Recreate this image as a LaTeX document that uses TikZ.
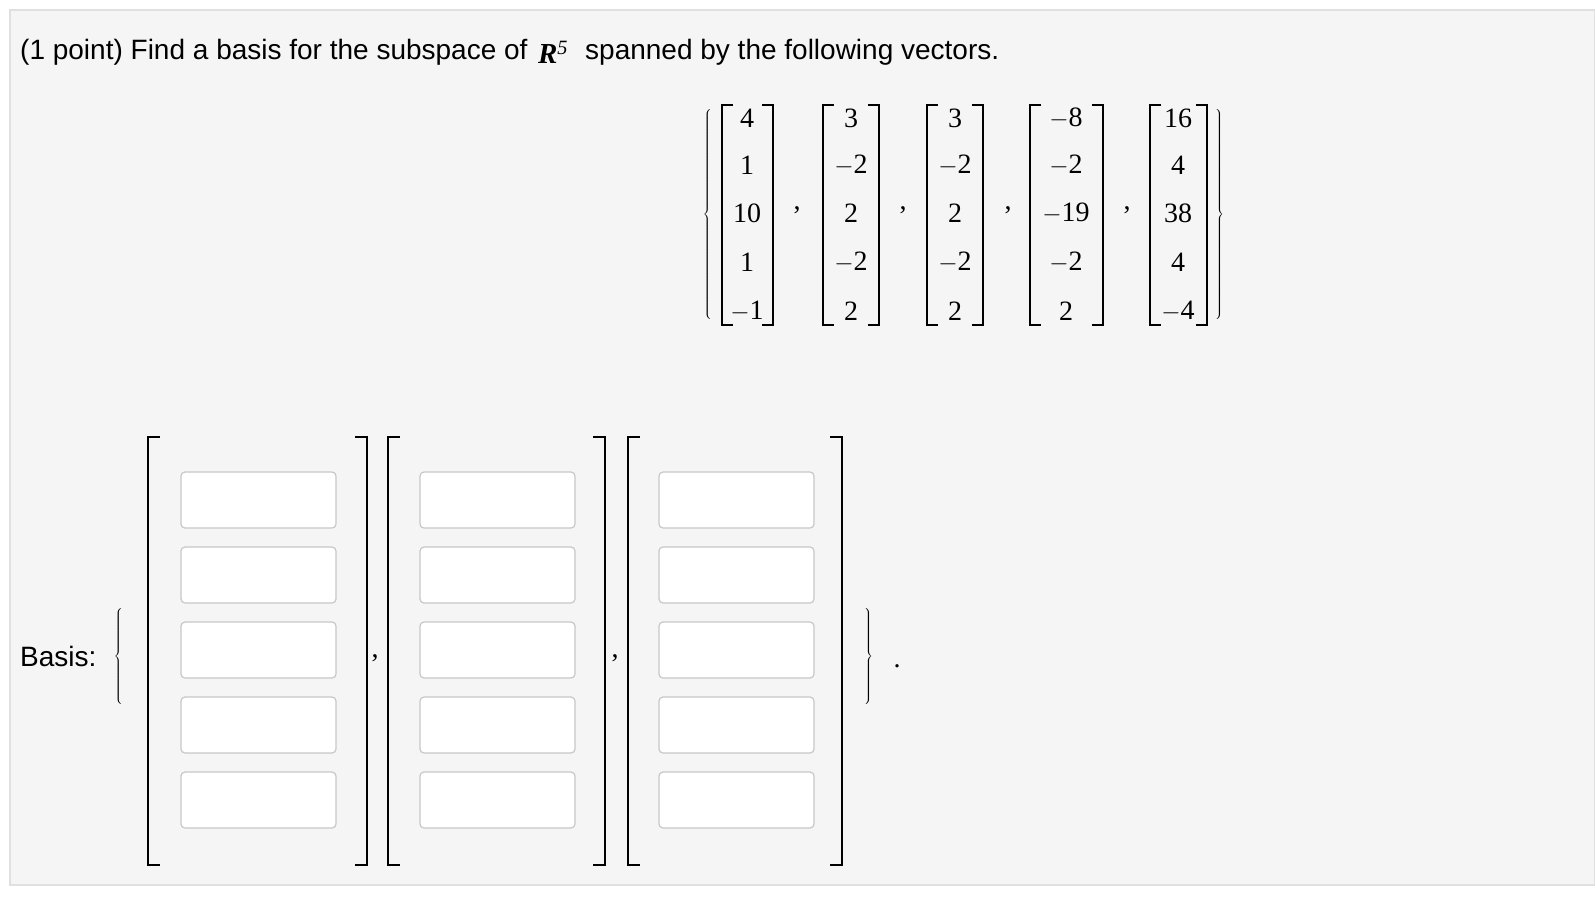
\documentclass[tikz,border=0pt]{standalone}
\usepackage{fontspec}
\setmainfont{Liberation Serif}
\newfontfamily\uifont{Liberation Sans}
\begin{document}
\begin{tikzpicture}[x=1pt,y=-1pt,
  num/.style={font=\fontsize{28}{30}\selectfont, anchor=center, inner sep=0pt},
  ui/.style={font=\uifont\fontsize{28}{30}\selectfont, inner sep=0pt},
  brk/.style={line width=1.6pt, black},
  inbox/.style={draw=black!22, fill=white, rounded corners=4pt, line width=1.2pt, minimum width=155pt, minimum height=56pt, inner sep=0pt}]
\useasboundingbox (0,0) rectangle (1595,906);
\fill[white] (0,0) rectangle (1595,906);
\draw[fill=black!4, draw=black!12, line width=1.5pt] (10,10) rectangle (1595,885);
\node[ui, anchor=west] (title) at (20,52) {(1 point) Find a basis for the subspace of};
\node[num, font=\fontsize{29}{30}\selectfont] (R) at (553,52) {\textbf{\textit{R}}\textsuperscript{\textit{5}}};
\node[ui, anchor=west] (title2) at (585,52) {spanned by the following vectors.};
% top vectors
\foreach \c/\l/\r [count=\k] in {747/722/773, 851/823/879, 955/927/983, 1066/1030/1103, 1178/1150/1207}{
  \draw[brk] (\l+11,105) -- (\l,105) -- (\l,325) -- (\l+11,325);
  \draw[brk] (\r-11,105) -- (\r,105) -- (\r,325) -- (\r-11,325);
}
\foreach \c/\vals [count=\k] in {747/{4,1,10,1,$-$1}, 851/{3,$-$2,2,$-$2,2}, 955/{3,$-$2,2,$-$2,2}, 1066/{$-$8,$-$2,$-$19,$-$2,2}, 1178/{16,4,38,4,$-$4}}{
  \foreach \v [count=\j] in \vals {
    \pgfmathsetmacro{\yy}{\j==1?118:(\j==2?165:(\j==3?213:(\j==4?262:311)))}
    \node[num] (v\k r\j) at (\c,\yy) {\v};
  }
}
\foreach \x [count=\k] in {797,903,1008,1127}{\node[num] (tc\k) at (\x,210) {,};}
\node[num] (lbr) at (708,215) {$\left\{\rule[-100pt]{0pt}{205pt}\right.$};
\node[num] (rbr) at (1219,215) {$\left.\rule[-100pt]{0pt}{205pt}\right\}$};
% basis
\node[ui, anchor=west] (basis) at (20,656) {Basis:};
\node[num] (blb) at (119,657) {$\left\{\rule[-42pt]{0pt}{86pt}\right.$};
\foreach \l/\r/\bx [count=\k] in {148/367/258.5, 388/605/497.5, 628/842/736.5}{
  \draw[brk] (\l+12,437) -- (\l,437) -- (\l,865) -- (\l+12,865);
  \draw[brk] (\r-12,437) -- (\r,437) -- (\r,865) -- (\r-12,865);
  \foreach \yy [count=\j] in {500,575,650,725,800}{
    \node[inbox] (b\k r\j) at (\bx,\yy) {};
  }
}
\node[num] (bc1) at (375,658) {,};
\node[num] (bc2) at (615,658) {,};
\node[num] (brb) at (868,657) {$\left.\rule[-42pt]{0pt}{86pt}\right\}$};
\node[num] (dot) at (897,666) {.};
\end{tikzpicture}
\end{document}
